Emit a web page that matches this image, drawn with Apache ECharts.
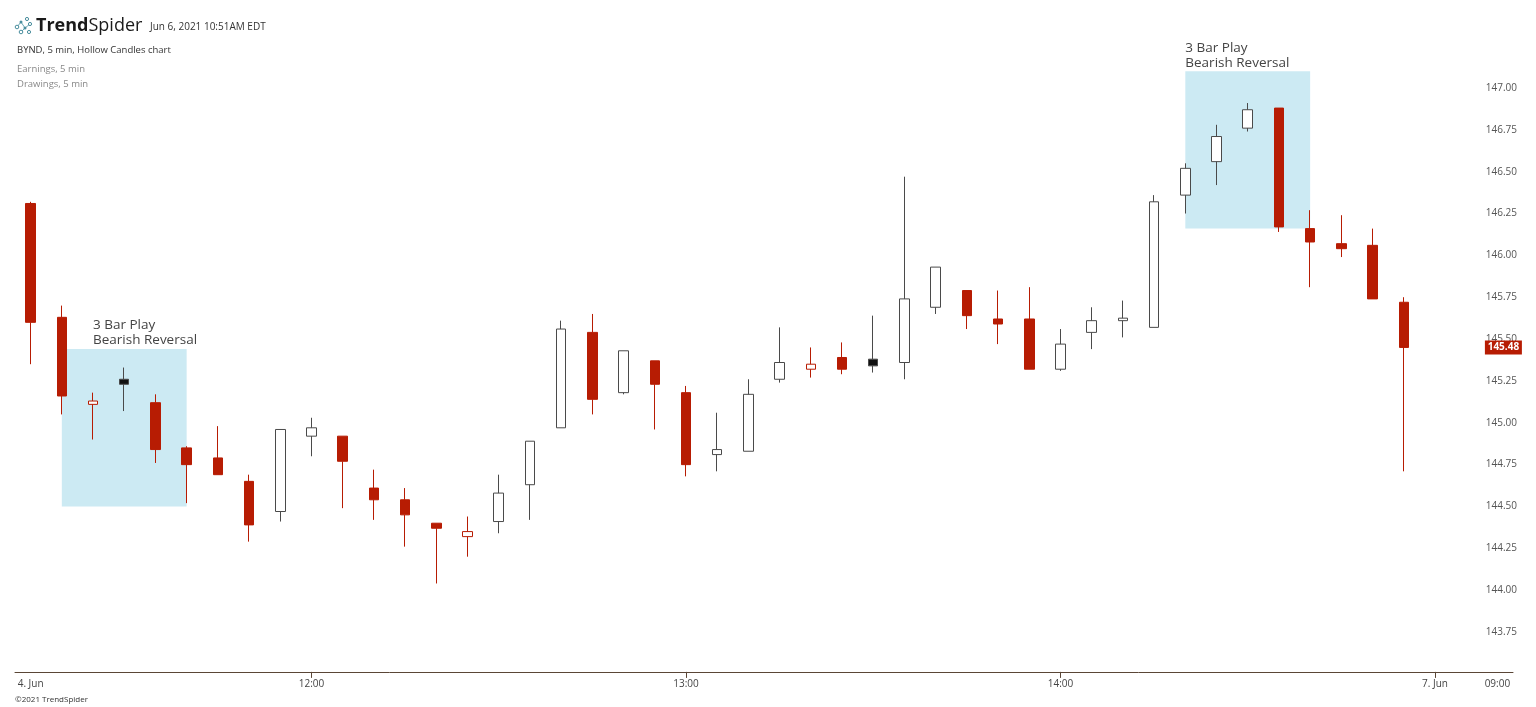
<!DOCTYPE html>
<html><head><meta charset="utf-8">
<script src="https://cdn.jsdelivr.net/npm/echarts@6/dist/echarts.min.js"></script>
<style>html,body{margin:0;padding:0;background:#fff}#chart{width:1536px;height:707px}</style>
</head><body><div id="chart"></div>
<script>
// ---- data ----
const categories = ["11:15","11:20","11:25","11:30","11:35","11:40","11:45","11:50","11:55",
  "12:00","12:05","12:10","12:15","12:20","12:25","12:30","12:35","12:40","12:45","12:50","12:55",
  "13:00","13:05","13:10","13:15","13:20","13:25","13:30","13:35","13:40","13:45","13:50","13:55",
  "14:00","14:05","14:10","14:15","14:20","14:25","14:30","14:35","14:40","14:45","14:50","14:55",
  "7. Jun","08:55","09:00"];
const opens  = [146.34,145.66,145.14,145.29,145.15,144.88,144.82,144.68,144.50,144.95,144.95,144.64,144.57,144.43,144.35,144.44,144.66,145.00,145.57,145.21,145.40,145.21,144.84,144.86,145.29,145.35,145.42,145.41,145.39,145.72,145.82,145.65,145.65,145.35,145.57,145.64,145.60,146.39,146.59,146.79,146.91,146.19,146.10,146.09,145.75];
const highs  = [146.35,145.73,145.21,145.36,145.20,144.89,145.01,144.72,144.99,145.06,144.95,144.75,144.64,144.43,144.47,144.72,144.92,145.64,145.68,145.46,145.40,145.25,145.09,145.29,145.60,145.48,145.51,145.67,146.50,145.96,145.82,145.82,145.84,145.59,145.72,145.76,146.39,146.58,146.81,146.94,146.91,146.30,146.27,146.19,145.78];
const lows   = [145.38,145.08,144.93,145.10,144.79,144.55,144.72,144.32,144.44,144.83,144.52,144.45,144.29,144.07,144.23,144.37,144.45,145.00,145.08,145.20,144.99,144.71,144.74,144.86,145.27,145.30,145.32,145.33,145.29,145.68,145.59,145.50,145.35,145.34,145.47,145.54,145.60,146.28,146.45,146.77,146.17,145.84,146.02,145.77,144.74];
const closes = [145.63,145.19,145.16,145.26,144.87,144.78,144.72,144.42,144.99,145.00,144.80,144.57,144.48,144.40,144.38,144.61,144.92,145.59,145.17,145.46,145.26,144.78,144.87,145.20,145.39,145.38,145.35,145.37,145.77,145.96,145.67,145.62,145.35,145.50,145.64,145.655,146.35,146.55,146.74,146.90,146.20,146.11,146.07,145.77,145.48];
const xTickLabels = {"11:15":"4. Jun","12:00":"12:00","13:00":"13:00","14:00":"14:00","7. Jun":"7. Jun","09:00":"09:00"};
const xTickMarks = ["12:00","13:00","14:00","7. Jun"];
const yMin = 143.5, yMax = 147.5, yStep = 0.25;
const yLabelMin = 143.75, yLabelMax = 147.00;
const annFrom   = ["11:20","14:20"];
const annTo     = ["11:40","14:40"];
const annTop    = [145.47,147.13];
const annBottom = [144.53,146.19];
const annTextAt = ["11:25","14:20"];
const annTextTop= [145.66,147.31];
const annText   = ["3 Bar Play\nBearish Reversal","3 Bar Play\nBearish Reversal"];
const lastPriceSlot = "09:00";

// ---- styles ----
const RED = '#b71c03', DARK = '#4a4a4a', DARKFILL = '#111111', FONT = 'Open Sans';

const candleData = opens.map((o, i) => {
  const c = closes[i];
  const prev = i > 0 ? closes[i-1] : o;
  const isRed = c < prev;
  const hollow = c > o;
  const col = isRed ? RED : DARK;
  return {
    value: [o, c, lows[i], highs[i]],
    itemStyle: {
      color: hollow ? '#ffffff' : (isRed ? RED : DARKFILL),
      color0: hollow ? '#ffffff' : (isRed ? RED : DARKFILL),
      borderColor: col, borderColor0: col, borderWidth: 1
    }
  };
});
const lastClose = closes[closes.length - 1];

const markAreaData = annFrom.map((f, i) => [
  {coord: [f, annTop[i]]}, {coord: [annTo[i], annBottom[i]]}
]);
const markPointData = annText.map((t, i) => ({
  coord: [annTextAt[i], annTextTop[i]], symbol: 'rect', symbolSize: 0,
  label: {show: true, position: [0, 0], align: 'left', verticalAlign: 'top',
    formatter: t, fontFamily: FONT, fontSize: 13.5, lineHeight: 15, color: '#444'}
}));
markPointData.push({
  coord: [lastPriceSlot, lastClose], symbol: 'rect', symbolSize: [37, 14], symbolOffset: [6, 0],
  itemStyle: {color: RED},
  label: {show: true, position: 'inside', formatter: () => lastClose.toFixed(2),
    color: '#fff', fontFamily: FONT, fontSize: 10, fontWeight: 'bold'}
});

const chart = echarts.init(document.getElementById('chart'), null, {renderer: 'canvas'});
chart.setOption({
  animation: false,
  backgroundColor: '#ffffff',
  grid: {left: 15, right: 23, top: 9.3, bottom: 28.1, containLabel: false},
  xAxis: {
    type: 'category', data: categories, boundaryGap: true, offset: -7,
    axisLine: {show: true, lineStyle: {color: '#5a4636', width: 1}},
    axisTick: {show: true, alignWithLabel: true, length: 6, lineStyle: {color: '#5a4636'},
      interval: (idx, v) => xTickMarks.includes(v)},
    axisLabel: {show: true, margin: 7, color: '#444', fontFamily: FONT, fontSize: 10,
      interval: (idx, v) => v in xTickLabels, formatter: v => xTickLabels[v] || ''},
    splitLine: {show: false}
  },
  yAxis: {
    type: 'value', position: 'right', min: yMin, max: yMax, interval: yStep, scale: true,
    axisLine: {show: false}, axisTick: {show: false}, splitLine: {show: false},
    axisLabel: {show: true, align: 'right', margin: 4, verticalAlign: 'bottom', lineHeight: 10,
      color: '#555', fontFamily: FONT, fontSize: 10,
      formatter: v => (v < yLabelMin - 1e-6 || v > yLabelMax + 1e-6) ? '' : v.toFixed(2)}
  },
  series: [{
    type: 'candlestick', data: candleData, barWidth: 10, z: 2,
    markArea: {silent: true, itemStyle: {color: '#cceaf3'}, data: markAreaData},
    markPoint: {silent: true, data: markPointData}
  }],
  graphic: [
    {type: 'group', children: [
      {type: 'line', shape: {x1: 17, y1: 27, x2: 21, y2: 22}, style: {stroke: '#6aa8b5', lineWidth: 1}},
      {type: 'line', shape: {x1: 21, y1: 22, x2: 25, y2: 28}, style: {stroke: '#6aa8b5', lineWidth: 1}},
      {type: 'line', shape: {x1: 25, y1: 28, x2: 21, y2: 32}, style: {stroke: '#6aa8b5', lineWidth: 1}},
      {type: 'line', shape: {x1: 25, y1: 28, x2: 30, y2: 24}, style: {stroke: '#6aa8b5', lineWidth: 1}},
      {type: 'circle', shape: {cx: 17, cy: 27, r: 1.8}, style: {fill: '#fff', stroke: '#4a8e9e', lineWidth: 1}},
      {type: 'circle', shape: {cx: 21, cy: 22, r: 1.5}, style: {fill: '#4a8e9e'}},
      {type: 'circle', shape: {cx: 25, cy: 28, r: 1.5}, style: {fill: '#4a8e9e'}},
      {type: 'circle', shape: {cx: 21, cy: 32, r: 1.8}, style: {fill: '#fff', stroke: '#4a8e9e', lineWidth: 1}},
      {type: 'circle', shape: {cx: 27, cy: 19, r: 1.6}, style: {fill: '#fff', stroke: '#4a8e9e', lineWidth: 1}},
      {type: 'circle', shape: {cx: 30, cy: 24, r: 1.6}, style: {fill: '#fff', stroke: '#4a8e9e', lineWidth: 1}},
      {type: 'circle', shape: {cx: 29, cy: 32, r: 1.6}, style: {fill: '#fff', stroke: '#4a8e9e', lineWidth: 1}}
    ]},
    {type: 'text', x: 36, y: 26, style: {text: '{b|Trend}{n|Spider}', verticalAlign: 'middle',
      rich: {b: {fontFamily: FONT, fontSize: 18, fontWeight: 'bold', fill: '#1a1a1a'},
             n: {fontFamily: FONT, fontSize: 18, fontWeight: 'normal', fill: '#1a1a1a'}}}},
    {type: 'text', x: 150, y: 27, style: {text: 'Jun 6, 2021 10:51AM EDT', verticalAlign: 'middle',
      fontFamily: FONT, fontSize: 10, fill: '#333'}},
    {type: 'text', x: 17, y: 50, style: {text: 'BYND, 5 min, Hollow Candles chart', verticalAlign: 'middle',
      fontFamily: FONT, fontSize: 9.5, fill: '#333'}},
    {type: 'text', x: 17, y: 69, style: {text: 'Earnings, 5 min', verticalAlign: 'middle',
      fontFamily: FONT, fontSize: 9.5, fill: '#888'}},
    {type: 'text', x: 17, y: 84, style: {text: 'Drawings, 5 min', verticalAlign: 'middle',
      fontFamily: FONT, fontSize: 9.5, fill: '#888'}},
    {type: 'text', x: 15, y: 700, style: {text: '©2021 TrendSpider', verticalAlign: 'middle',
      fontFamily: FONT, fontSize: 8, fill: '#333'}}
  ]
});
</script></body></html>
